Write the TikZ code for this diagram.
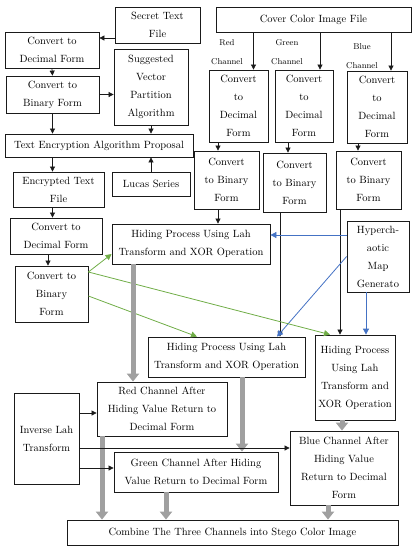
\documentclass[tikz,border=0pt]{standalone}
\usetikzlibrary{arrows.meta}
\definecolor{dgInk}{HTML}{1A1A1A}
\definecolor{dgGreen}{HTML}{70AD47}
\definecolor{dgBlue}{HTML}{4472C4}
\definecolor{dgPipe}{HTML}{A0A0A0}

\begin{document}
\begin{tikzpicture}[x=1pt,y=-1pt,
                    box/.style={draw=dgInk,line width=0.8pt,align=center,inner sep=1pt,
                                font=\fontsize{10.5}{18}\selectfont},
                    chan/.style={align=center,inner sep=0pt,font=\fontsize{8.5}{19}\selectfont},
                    arr/.style={draw=dgInk,line width=0.7pt,-{Triangle[width=5pt,length=5pt]}},
                    garr/.style={draw=dgGreen,line width=0.8pt,-{Triangle[width=6pt,length=6pt]}},
                    barr/.style={draw=dgBlue,line width=0.8pt,-{Triangle[width=6pt,length=6pt]}},
                    pipe/.style={draw=dgPipe,line width=5pt,-{Triangle[width=12pt,length=8pt]}}]
  \useasboundingbox (0,0) rectangle (415,550);

  \node[box,minimum width=85pt,minimum height=36pt]  (secret)  at (157.5,25)  {Secret Text\\File};
  \node[box,minimum width=94pt,minimum height=36pt]  (dec1)    at (52,50)     {Convert to\\Decimal Form};
  \node[box,minimum width=93pt,minimum height=37pt]  (bin1)    at (52.5,94.5) {Convert to\\Binary Form};
  \node[box,minimum width=74pt,minimum height=76pt]  (svpa)    at (151,87)    {Suggested\\Vector\\Partition\\Algorithm};
  \node[box,minimum width=188pt,minimum height=23pt] (teap)    at (99,145.5)  {Text Encryption Algorithm Proposal};
  \node[box,minimum width=91pt,minimum height=35pt]  (enc)     at (58.5,189.5){Encrypted Text\\File};
  \node[box,minimum width=78pt,minimum height=24pt]  (lucas)   at (151,184)   {Lucas Series};
  \node[box,minimum width=92pt,minimum height=36pt]  (dec2)    at (56,236)    {Convert to\\Decimal Form};
  \node[box,minimum width=73pt,minimum height=56pt]  (bin2)    at (51.5,294)  {Convert to\\Binary\\Form};

  \node[box,minimum width=195pt,minimum height=25pt] (cover)   at (313.5,19.5){Cover Color Image File};
  \node[chan] (redlab)   at (227,52.5) {Red\\Channel};
  \node[chan] (greenlab) at (287,52.5) {Green\\Channel};
  \node[chan] (bluelab)  at (362,56)   {Blue\\Channel};
  \node[box,minimum width=59pt,minimum height=72pt]  (rdec)    at (238.5,106) {Convert\\to\\Decimal\\Form};
  \node[box,minimum width=58pt,minimum height=72pt]  (gdec)    at (304,106)   {Convert\\to\\Decimal\\Form};
  \node[box,minimum width=60pt,minimum height=72pt]  (bdec)    at (377,107)   {Convert\\to\\Decimal\\Form};
  \node[box,minimum width=65pt,minimum height=58pt]  (rbin)    at (226.5,180) {Convert\\to Binary\\Form};
  \node[box,minimum width=63pt,minimum height=59pt]  (gbin)    at (294.5,182.5){Convert\\to Binary\\Form};
  \node[box,minimum width=65pt,minimum height=58pt]  (bbin)    at (368.5,180) {Convert\\to Binary\\Form};

  \node[box,minimum width=158pt,minimum height=40pt] (hide1)   at (191,244)   {Hiding Process Using Lah\\Transform and XOR Operation};
  \node[box,minimum width=62pt,minimum height=71pt]  (chaos)   at (378,256.5) {Hyperch-\\aotic\\Map\\Generato};
  \node[box,minimum width=157pt,minimum height=40pt] (hide2)   at (226.5,357) {Hiding Process Using Lah\\Transform and XOR Operation};
  \node[box,minimum width=80pt,minimum height=85pt]  (hide3)   at (355,377.5) {Hiding Process\\Using Lah\\Transform and\\XOR Operation};

  \node[box,minimum width=130pt,minimum height=54pt] (red)     at (162,409)   {Red Channel After\\Hiding Value Return to\\Decimal Form};
  \node[box,minimum width=65pt,minimum height=91pt]  (inv)     at (46.5,438.5){Inverse Lah\\Transform};
  \node[box,minimum width=164pt,minimum height=40pt] (green)   at (196,472)   {Green Channel After Hiding\\Value Return to Decimal Form};
  \node[box,minimum width=108pt,minimum height=74pt] (blue)    at (344,468)   {Blue Channel After\\Hiding Value\\Return to Decimal\\Form};
  \node[box,minimum width=331pt,minimum height=25pt] (combine) at (232.5,532.5){Combine The Three Channels into Stego Color Image};

  \draw[arr] ([yshift=-13pt]secret.west) -- ([yshift=-13pt]secret.west -| dec1.east);
  \draw[arr] (dec1.south) -- (bin1.north);
  \draw[arr] (bin1.east) -- (bin1.east -| svpa.west);
  \draw[arr] (bin1.south) -- (bin1.south |- teap.north);
  \draw[arr] (svpa.south) -- (svpa.south |- teap.north);
  \draw[arr] (teap.south -| bin1.south) -- (enc.north -| bin1.south);
  \draw[arr] (lucas.north) -- (lucas.north |- teap.south);
  \draw[arr] (enc.south -| bin1.south) -- (dec2.north -| bin1.south);
  \draw[arr] ([xshift=-3.5pt]bin2.north |- dec2.south) -- ([xshift=-3.5pt]bin2.north);

  \draw[arr] ([xshift=15pt]rdec.north |- cover.south) -- ([xshift=15pt]rdec.north);
  \draw[arr] ([xshift=16pt]gdec.north |- cover.south) -- ([xshift=16pt]gdec.north);
  \draw[arr] ([xshift=14pt]bdec.north |- cover.south) -- ([xshift=14pt]bdec.north);
  \draw[arr] ([xshift=-20.5pt]rdec.south) -- ([xshift=-20.5pt]rdec.south |- rbin.north);
  \draw[arr] ([xshift=-16pt]gdec.south) -- ([xshift=-16pt]gdec.south |- gbin.north);
  \draw[arr] ([xshift=-19pt]bdec.south) -- ([xshift=-19pt]bdec.south |- bbin.north);
  \draw[arr] ([xshift=-8.5pt]rbin.south) -- ([xshift=-8.5pt]rbin.south |- hide1.north);
  \draw[arr] ([xshift=-14.5pt]gbin.south) -- ([xshift=-14.5pt]gbin.south |- hide2.north);
  \draw[arr] ([xshift=-28.5pt]bbin.south) -- ([xshift=-28.5pt]bbin.south |- hide3.north);

  \draw[barr] ([yshift=21.5pt]chaos.west) -- ([yshift=21.5pt]chaos.west -| hide1.east);
  \draw[barr] (chaos.west) -- ([xshift=50.5pt]hide2.north);
  \draw[barr] ([xshift=-12pt]chaos.south) -- ([xshift=-12pt]chaos.south |- hide3.north);

  \draw[garr] ([yshift=22pt]bin2.east) -- ([yshift=-10pt]hide1.west);
  \draw[garr] ([yshift=22pt]bin2.east) -- ([xshift=-25pt]hide3.north);
  \draw[garr] ([yshift=-2pt]bin2.east) -- ([xshift=-29.5pt]hide2.north);

  \draw[pipe] ([xshift=-58pt]hide1.south) -- ([xshift=-58pt]hide1.south |- red.north);
  \draw[pipe] ([xshift=15.5pt]hide2.south) -- ([xshift=15.5pt]hide2.south |- green.north);
  \draw[pipe] ([xshift=-13pt]hide3.south) -- ([xshift=-13pt]hide3.south |- blue.north);
  \draw[pipe] ([xshift=-60pt]red.south) -- ([xshift=-60pt]red.south |- combine.north);
  \draw[pipe] ([xshift=-30pt]green.south) -- ([xshift=-30pt]green.south |- combine.north);
  \draw[pipe] ([xshift=-16pt]blue.south) -- ([xshift=-16pt]blue.south |- combine.north);

  \draw[arr] ([yshift=25.5pt]inv.east) -- ([yshift=25.5pt]inv.east -| red.west);
  \draw[arr] ([yshift=-9.5pt]inv.east) -- ([yshift=-9.5pt]inv.east -| blue.west);
  \draw[arr] ([yshift=-29.5pt]inv.east) -- ([yshift=-29.5pt]inv.east -| green.west);
\end{tikzpicture}
\end{document}
